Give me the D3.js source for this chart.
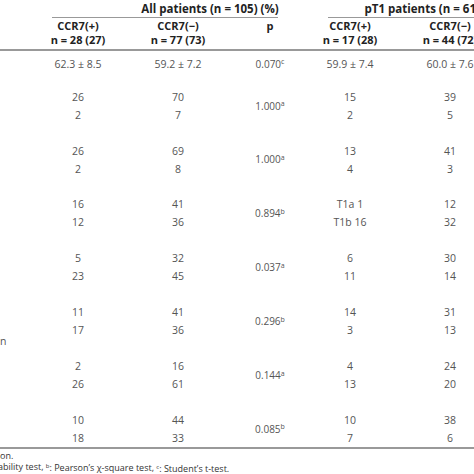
<!DOCTYPE html>
<html>
<head>
<meta charset="utf-8">
<script src="https://cdn.jsdelivr.net/npm/d3@7"></script>
<style>
  body { margin: 0; background: #fff; }
  svg { font-family: "Open Sans", "Noto Sans", sans-serif; }
</style>
</head>
<body>
<svg width="474" height="474"></svg>
<script>
// columns of the table
var columns = ["allPos", "allNeg", "p", "pt1Pos", "pt1Neg"];
var colHeads = ["CCR7(+)", "CCR7(\u2212)", "p", "CCR7(+)", "CCR7(\u2212)"];
var colCounts = ["n = 28 (27)", "n = 77 (73)", "", "n = 17 (28)", "n = 44 (72)"];

// values per group (two rows each, first one single row)
var allPos = [["62.3 \u00b1 8.5"], ["26", "2"], ["26", "2"], ["16", "12"], ["5", "23"], ["11", "17"], ["2", "26"], ["10", "18"]];
var allNeg = [["59.2 \u00b1 7.2"], ["70", "7"], ["69", "8"], ["41", "36"], ["32", "45"], ["41", "36"], ["16", "61"], ["44", "33"]];
var pValues = ["0.070", "1.000", "1.000", "0.894", "0.037", "0.296", "0.144", "0.085"];
var pTests = ["c", "a", "a", "b", "a", "b", "a", "b"];
var pt1Pos = [["59.9 \u00b1 7.4"], ["15", "2"], ["13", "4"], ["T1a 1", "T1b 16"], ["6", "11"], ["14", "3"], ["4", "13"], ["10", "7"]];
var pt1Neg = [["60.0 \u00b1 7.6"], ["39", "5"], ["41", "3"], ["12", "32"], ["30", "14"], ["31", "13"], ["24", "20"], ["38", "6"]];

var svg = d3.select("svg");
var textCol = "#555", headCol = "#222", ruleCol = "#999";

var xPos = { allPos: 78, allNeg: 178, p: 270, pt1Pos: 350, pt1Neg: 450 };

// group index -> row centre
var y = d3.scaleLinear().domain([1, 7]).range([106, 429]);

// group headers
svg.append("text").attr("x", 210).attr("y", 13).attr("text-anchor", "middle")
  .attr("font-size", 11.5).attr("font-weight", "bold").attr("fill", headCol)
  .text("All patients (n = 105) (%)");
svg.append("text").attr("x", 476).attr("y", 13).attr("text-anchor", "end")
  .attr("font-size", 11.5).attr("font-weight", "bold").attr("fill", headCol)
  .text("pT1 patients (n = 61");
svg.append("line").attr("x1", 52).attr("x2", 278).attr("y1", 17.5).attr("y2", 17.5)
  .attr("stroke", ruleCol).attr("stroke-width", 1);
svg.append("line").attr("x1", 328).attr("x2", 474).attr("y1", 17.5).attr("y2", 17.5)
  .attr("stroke", ruleCol).attr("stroke-width", 1);

columns.forEach(function (c, i) {
  svg.append("text").attr("x", xPos[c]).attr("y", 30).attr("text-anchor", "middle")
    .attr("font-size", 11).attr("font-weight", "bold").attr("fill", headCol).text(colHeads[i]);
  svg.append("text").attr("x", xPos[c]).attr("y", 44).attr("text-anchor", "middle")
    .attr("font-size", 11).attr("font-weight", "bold").attr("fill", headCol).text(colCounts[i]);
});

svg.append("line").attr("x1", 0).attr("x2", 474).attr("y1", 50).attr("y2", 50)
  .attr("stroke", ruleCol).attr("stroke-width", 2);
svg.append("line").attr("x1", 0).attr("x2", 474).attr("y1", 448).attr("y2", 448)
  .attr("stroke", ruleCol).attr("stroke-width", 2);

var data = { allPos: allPos, allNeg: allNeg, pt1Pos: pt1Pos, pt1Neg: pt1Neg };

function cellY(g, r, n) {
  if (g === 0) return 64;
  return y(g) + (n === 1 ? 0 : (r === 0 ? -9 : 9));
}

["allPos", "allNeg", "pt1Pos", "pt1Neg"].forEach(function (c) {
  data[c].forEach(function (rows, g) {
    rows.forEach(function (v, r) {
      svg.append("text").attr("x", xPos[c]).attr("y", cellY(g, r, rows.length))
        .attr("dy", "0.35em").attr("text-anchor", "middle")
        .attr("font-size", 10.5).attr("fill", textCol).text(v);
    });
  });
});

pValues.forEach(function (v, g) {
  var t = svg.append("text").attr("x", xPos.p).attr("y", g === 0 ? 64 : y(g))
    .attr("dy", "0.35em").attr("text-anchor", "middle")
    .attr("font-size", 10).attr("fill", textCol);
  t.append("tspan").text(v);
  t.append("tspan").attr("dy", "-0.45em").attr("font-size", 7).text(pTests[g]);
});

// row label fragment visible at the left edge
svg.append("text").attr("x", 0).attr("y", 345).attr("font-size", 10.5).attr("fill", textCol).text("n");

// footnotes
svg.append("text").attr("x", 0).attr("y", 459).attr("font-size", 9).attr("fill", "#333").text("on.");
var f = svg.append("text").attr("x", -2).attr("y", 470).attr("font-size", 9).attr("fill", "#333");
f.append("tspan").text("ability test, ");
f.append("tspan").attr("dy", "-0.4em").attr("font-size", 6).text("b");
f.append("tspan").attr("dy", "0.4em").text(": Pearson\u2019s \u03c7-square test, ");
f.append("tspan").attr("dy", "-0.4em").attr("font-size", 6).text("c");
f.append("tspan").attr("dy", "0.4em").text(": Student\u2019s t-test.");
</script>
</body>
</html>
